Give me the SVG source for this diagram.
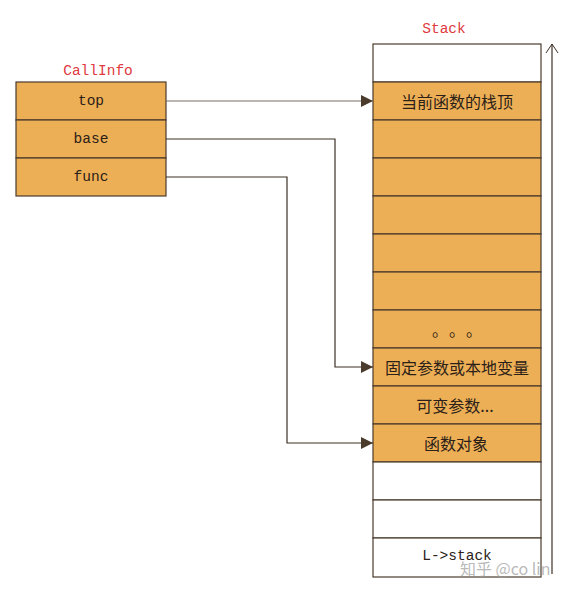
<svg xmlns="http://www.w3.org/2000/svg" width="571" height="589" viewBox="0 0 571 589">
<defs>
<style>
.cell{fill:#EDAF55;stroke:#4a3b2c;stroke-width:1.2}
.empty{fill:#ffffff;stroke:#4a3b2c;stroke-width:1.2}
.lbl{font-family:"Liberation Mono","Noto Sans CJK SC",monospace;font-size:14.5px;fill:#2b2118;text-anchor:middle;dominant-baseline:central}
.cjk{font-family:"Noto Sans CJK SC",sans-serif;font-size:16px;fill:#2b2118;text-anchor:middle;dominant-baseline:central}
.title{font-family:"Liberation Mono",monospace;font-size:14.5px;fill:#e0393e;text-anchor:middle}
.conn{fill:none;stroke:#3d3027;stroke-width:1.2}
</style>
<marker id="ah" viewBox="0 0 10 10" refX="10" refY="5" markerWidth="12" markerHeight="12" markerUnits="userSpaceOnUse" orient="auto">
<path d="M0,0 L10,5 L0,10 z" fill="#4a3b2c"/>
</marker>
<marker id="open" viewBox="0 0 10 14" refX="9" refY="7" markerWidth="10" markerHeight="14" markerUnits="userSpaceOnUse" orient="auto">
<path d="M0,1 L9,7 L0,13" fill="none" stroke="#3d3027" stroke-width="1"/>
</marker>
</defs>
<rect width="571" height="589" fill="#ffffff"/>

<g id="callinfo">
<text class="title" x="98" y="75">CallInfo</text>
<rect class="cell" x="16" y="82" width="150" height="38"/>
<text class="lbl" x="91" y="101">top</text>
<rect class="cell" x="16" y="120" width="150" height="38"/>
<text class="lbl" x="91" y="139">base</text>
<rect class="cell" x="16" y="158" width="150" height="38"/>
<text class="lbl" x="91" y="177">func</text>
</g>

<g id="stack">
<text class="title" x="444" y="33">Stack</text>
<rect class="empty" x="373" y="44" width="168" height="38"/>
<rect class="cell" x="373" y="82" width="168" height="38"/>
<text class="cjk" x="457" y="101">当前函数的栈顶</text>
<rect class="cell" x="373" y="120" width="168" height="38"/>
<rect class="cell" x="373" y="158" width="168" height="38"/>
<rect class="cell" x="373" y="196" width="168" height="38"/>
<rect class="cell" x="373" y="234" width="168" height="38"/>
<rect class="cell" x="373" y="272" width="168" height="38"/>
<rect class="cell" x="373" y="310" width="168" height="38"/>
<text font-family="Noto Sans CJK SC, sans-serif" font-size="16" fill="#2b2118" x="432 449 466" y="336">。。。</text>
<rect class="cell" x="373" y="348" width="168" height="38"/>
<text class="cjk" x="457" y="367">固定参数或本地变量</text>
<rect class="cell" x="373" y="386" width="168" height="38"/>
<text class="cjk" x="455" y="405">可变参数...</text>
<rect class="cell" x="373" y="424" width="168" height="38"/>
<text class="cjk" x="456" y="443">函数对象</text>
<rect class="empty" x="373" y="462" width="168" height="38"/>
<rect class="empty" x="373" y="500" width="168" height="38"/>
<rect class="empty" x="373" y="538" width="168" height="39"/>
<text class="lbl" x="457" y="556">L-&gt;stack</text>
</g>

<g id="connectors">
<path d="M166,101 H373" fill="none" stroke="#7a6e66" stroke-width="1.2" marker-end="url(#ah)"/>
<path class="conn" d="M166,139 H335 V367 H373" marker-end="url(#ah)"/>
<path class="conn" d="M166,177 H287 V443 H373" marker-end="url(#ah)"/>
<path class="conn" d="M552,574 V44" marker-end="url(#open)"/>
</g>

<text x="460" y="575" font-family="Noto Sans CJK SC, sans-serif" font-size="16" fill="#9a9a9a" fill-opacity="0.7">知乎 @co lin</text>
</svg>
